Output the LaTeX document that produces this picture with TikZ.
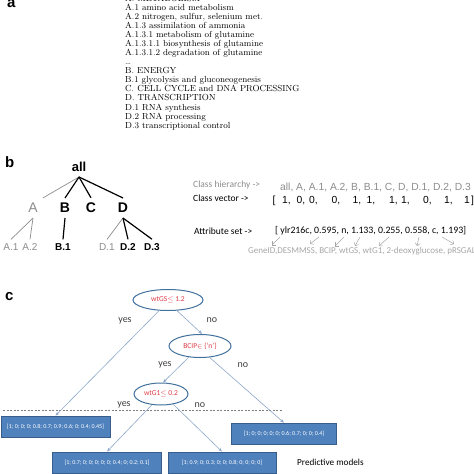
\documentclass[tikz,border=0pt]{standalone}
\usepackage{fontspec}
\usepackage{tikz}
\usetikzlibrary{arrows.meta, positioning, shapes.geometric}
\newfontfamily\calibri{Carlito}
\newfontfamily\arial{Liberation Sans}
\definecolor{boxblue}{HTML}{4F81BD}
\definecolor{boxline}{HTML}{385D8A}
\definecolor{ellline}{HTML}{41719C}
\definecolor{edgeblue}{HTML}{8DA7C9}
\definecolor{treegrey}{HTML}{8C8C8C}
\definecolor{lightgrey}{HTML}{A6A6A6}
\definecolor{testred}{HTML}{E03C46}
\definecolor{answergrey}{HTML}{404040}

\begin{document}
\begin{tikzpicture}[
  x=1pt, y=-1pt,
  panel/.style={font=\arial\bfseries\fontsize{15}{15}\selectfont, inner sep=0pt, anchor=base west},
  catline/.style={font=\fontsize{8.8}{9}\selectfont, inner sep=0pt, anchor=base west},
  root/.style={font=\arial\bfseries\fontsize{13}{13}\selectfont, inner sep=5pt},
  bktwo/.style={font=\arial\bfseries\fontsize{14}{14}\selectfont, inner sep=5pt},
  grtwo/.style={font=\arial\fontsize{14}{14}\selectfont, text=treegrey, inner sep=5pt},
  bkthree/.style={font=\arial\bfseries\fontsize{10}{10}\selectfont, inner sep=4pt},
  grthree/.style={font=\arial\fontsize{10}{10}\selectfont, text=treegrey, inner sep=4pt},
  bkline/.style={draw=black, line width=1.2pt},
  grline/.style={draw=treegrey, line width=0.7pt},
  rowlabel/.style={font=\calibri\fontsize{9.5}{9.5}\selectfont, inner sep=0pt, anchor=base west},
  rowtext/.style={font=\arial\fontsize{10.3}{10.3}\selectfont, inner sep=0pt, anchor=base west},
  attarrow/.style={-{Straight Barb[length=2.5pt]}, draw=lightgrey, line width=0.5pt},
  test/.style={ellipse, draw=ellline, line width=1pt, fill=white, text=testred, font=\calibri\fontsize{7.5}{7.5}\selectfont, inner sep=0pt},
  leaf/.style={rectangle, draw=boxline, line width=0.8pt, fill=boxblue, text=white, font=\calibri\fontsize{6}{6}\selectfont, minimum height=21pt, inner sep=0pt},
  edge/.style={-{Stealth[length=4pt, width=3pt]}, draw=edgeblue, line width=0.6pt},
  answer/.style={font=\calibri\fontsize{10}{10}\selectfont, text=answergrey, inner sep=0pt}
]
\useasboundingbox (0,0) rectangle (474,474);
\clip (0,0) rectangle (474,474);

% Panel a: category list
\node[panel] (pa) at (7,7.5) {a};
\foreach \t [count=\i from 0] in {A. METABOLISM, A.1 amino acid metabolism,
    {A.2 nitrogen, sulfur, selenium met.}, A.1.3 assimilation of ammonia,
    A.1.3.1 metabolism of glutamine, A.1.3.1.1 biosynthesis of glutamine,
    A.1.3.1.2 degradation of glutamine, {\ldots}, B. ENERGY,
    B.1 glycolysis and gluconeogenesis, C. CELL CYCLE and DNA PROCESSING,
    D. TRANSCRIPTION, D.1 RNA synthesis, D.2 RNA processing,
    D.3 transcriptional control}
  \node[catline] (l\i) at (125,1.2+9.07*\i) {\t};

% Panel b: class tree
\node[panel] (pb) at (5,167) {b};
\node[root] (all) at (79,167) {all};
\node[grtwo] (A) at (33,208) {A};
\node[bktwo] (B) at (65,208) {B};
\node[bktwo] (C) at (91,208) {C};
\node[bktwo] (D) at (123,208) {D};
\node[grthree] (A1) at (11,247) {A.1};
\node[grthree] (A2) at (30,247) {A.2};
\node[bkthree] (B1) at (63,247) {B.1};
\node[grthree] (D1) at (107,247) {D.1};
\node[bkthree] (D2) at (128,247) {D.2};
\node[bkthree] (D3) at (152,247) {D.3};

\draw[grline] (all.south) -- (A.north east);
\draw[bkline] (all.south) -- (B.north);
\draw[bkline] (all.south) -- (C.north);
\draw[bkline] (all.south) -- (D.north);
\draw[grline] (A.south) -- (A1.north);
\draw[grline] (A.south) -- (A2.north);
\draw[bkline] (B.south) -- (B1.north);
\draw[grline] (D.south) -- (D1.north);
\draw[bkline] (D.south) -- (D2.north);
\draw[bkline] (D.south) -- (D3.north);

% Panel b: class vector and attribute set
\node[rowlabel, text=treegrey] (lblhier) at (193,187) {Class hierarchy ->};
\node[rowlabel] (lblvec) at (193,201) {Class vector ->};
\node[rowlabel] (lblattr) at (194,234) {Attribute set ->};

\node[rowtext, text=treegrey] (hier) at (280,190.4) {all, A, A.1, A.2, B, B.1, C, D, D.1, D.2, D.3};
\node[rowtext] (vopen) at (272.5,203) {[};
\foreach \x/\v [count=\i] in {282/1, 296.5/0, 309/0, 331.5/0, 352.5/1, 366.5/1,
    389/1, 401/1, 423/0, 444/1, 464/1}
  \node[rowtext] (v\i) at (\x,203) {\v\ifnum\i<11,\fi};
\node[rowtext] (vclose) at (471,203) {]};

\node[rowlabel, font=\calibri\fontsize{9.8}{9.8}\selectfont] (attr) at (275,233.5)
  {[ ylr216c, 0.595, n, 1.133, 0.255, 0.558, c, 1.193]};
\node[rowlabel, font=\calibri\fontsize{9}{9}\selectfont, text=lightgrey] (names) at (248,253)
  {GeneID,DESMMSS, BCIP, wtGS, wtG1, 2-deoxyglucose, pRSGAL};

\foreach \sx/\ex/\ey [count=\i] in {280/272/245, 319/310/244, 344/335/246,
    360/355/246, 389/379/246, 419/417/246, 442/454/244} {
  \coordinate (s\i) at (\sx,237);
  \coordinate (e\i) at (\ex,\ey);
  \draw[attarrow] (s\i) -- (e\i);
}

% Panel c: decision tree
\node[panel] (pc) at (5,300) {c};
\node[test, minimum width=70pt, minimum height=21pt] (t1) at (168,300) {wtGS$\le$ 1.2};
\node[test, minimum width=62pt, minimum height=23pt] (t2) at (200,346) {BCIP$\in$ \{‘n’\}};
\node[test, minimum width=54pt, minimum height=22pt] (t3) at (161,394) {wtG1$\le$ 0.2};

\draw[dash pattern=on 2pt off 1.5pt, draw=gray, line width=0.5pt] (3,410.5) -- (283,410.5);

\node[leaf, minimum width=109pt] (m1) at (55.5,426.5) {[1; 0; 0; 0; 0.8; 0.7; 0.9; 0.6; 0; 0.4; 0.45]};
\node[leaf, minimum width=109pt] (m2) at (107,462.5) {[1; 0.7; 0; 0; 0; 0; 0; 0.4; 0; 0.2; 0.1]};
\node[leaf, minimum width=108pt] (m3) at (222,462.5) {[1; 0.9; 0; 0.3; 0; 0; 0.8; 0; 0; 0; 0]};
\node[leaf, minimum width=105pt] (m4) at (284,433.7) {[1; 0; 0; 0; 0; 0; 0.6; 0.7; 0; 0; 0.4]};

\draw[edge] (t1.230) -- (m1.north);
\draw[edge] (t1.310) -- (t2.80);
\draw[edge] (t2.225) -- (t3.80);
\draw[edge] (t2.310) -- (m4.north);
\draw[edge] (t3.230) -- (m2.north);
\draw[edge] (t3.320) -- (m3.north);

\node[answer] (yes1) at (125,321) {yes};
\node[answer] (no1) at (212,320) {no};
\node[answer] (yes2) at (165,365) {yes};
\node[answer] (no2) at (243,365) {no};
\node[answer] (yes3) at (124,405) {yes};
\node[answer] (no3) at (200,405) {no};

\node[answer, text=black, anchor=west, font=\calibri\fontsize{9.2}{9.2}\selectfont] (pred) at (297,462) {Predictive models};

\end{tikzpicture}
\end{document}
